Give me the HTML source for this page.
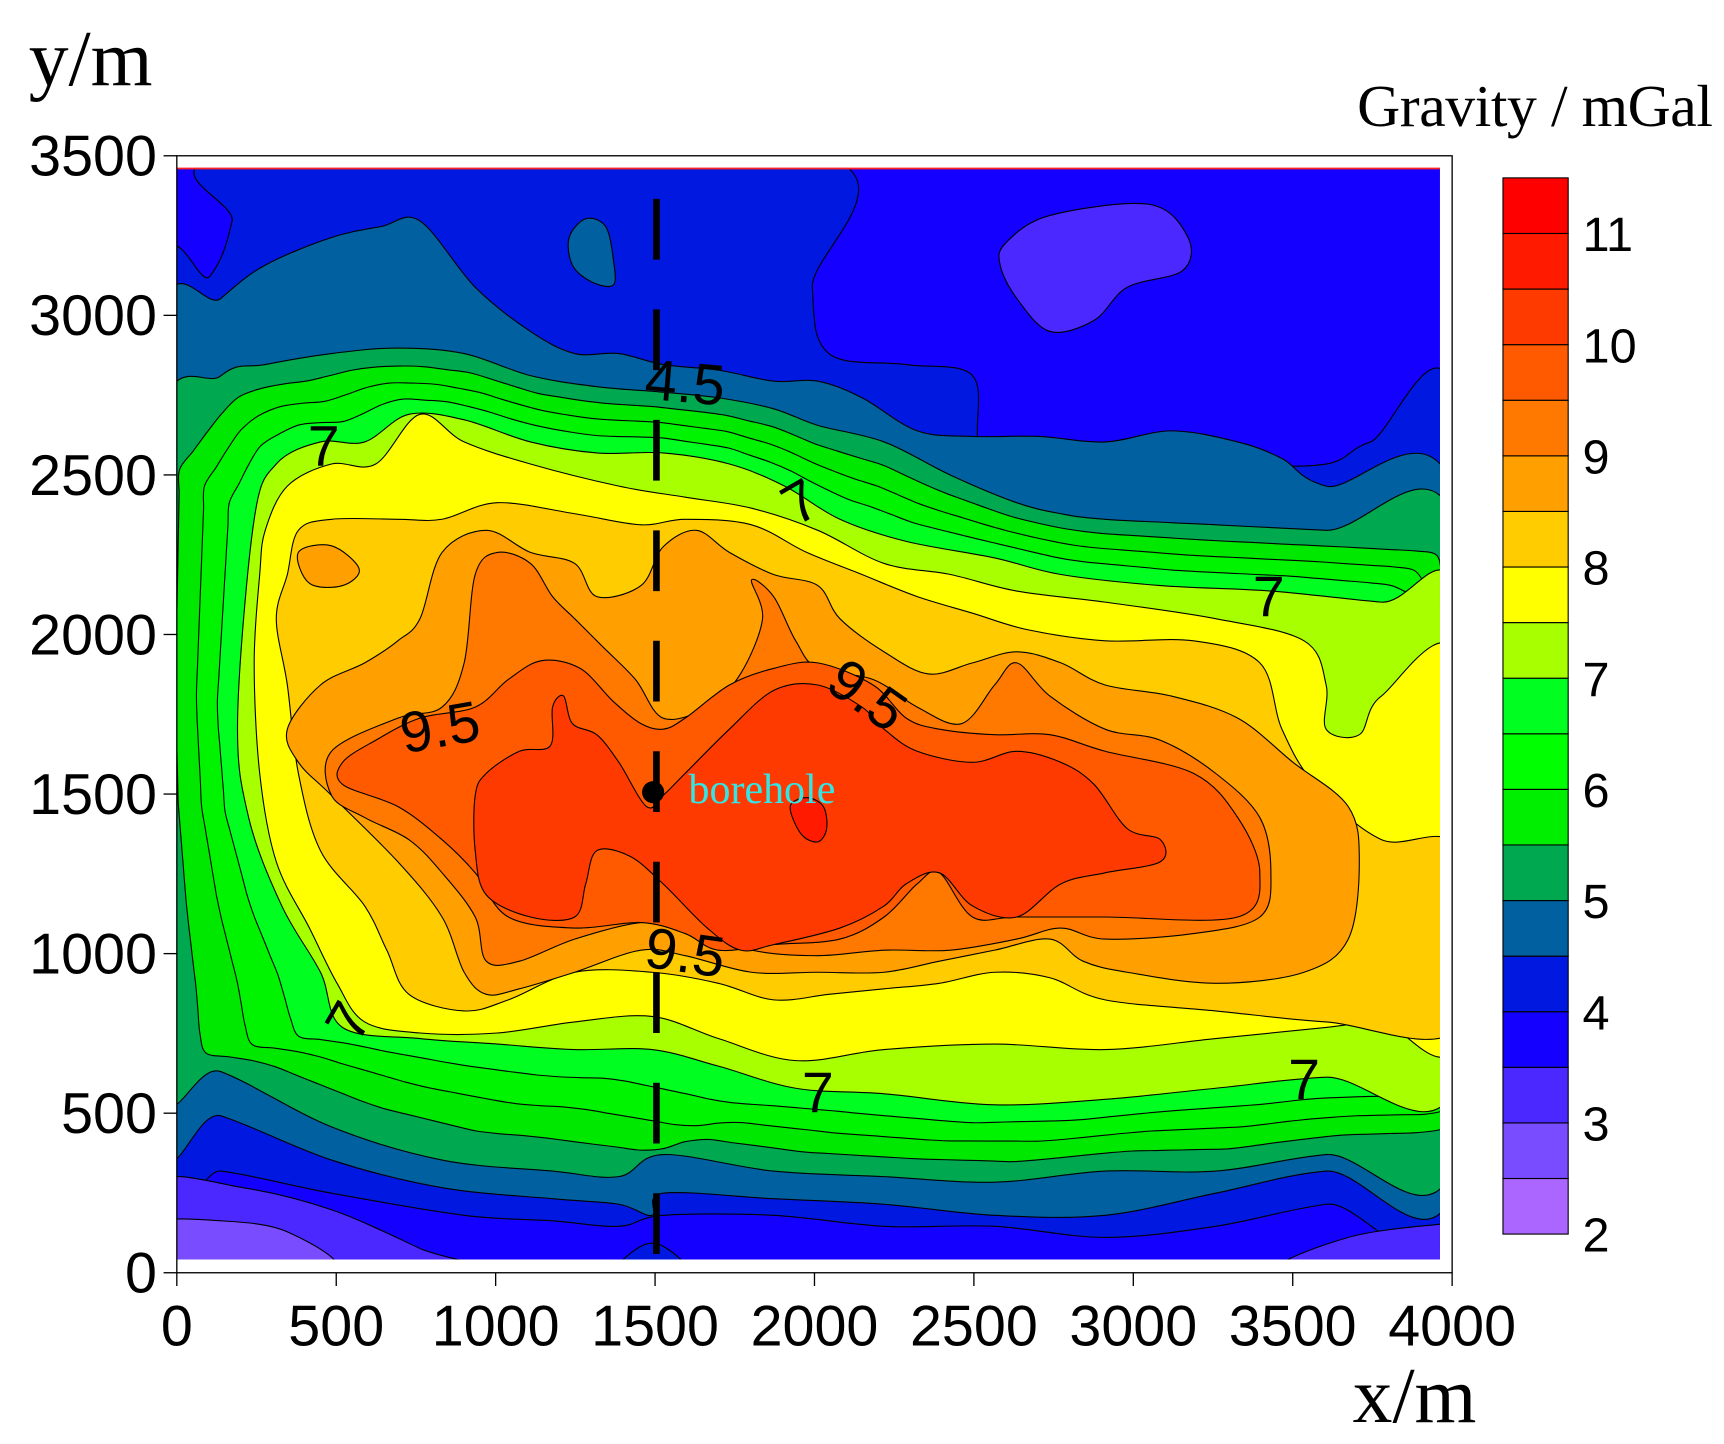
<!DOCTYPE html>
<html><head><meta charset="utf-8">
<style>html,body{margin:0;padding:0;background:#fff}svg{display:block}</style>
</head><body>
<svg id="s" width="1724" height="1444" viewBox="0 0 1560 1307" preserveAspectRatio="none" xmlns="http://www.w3.org/2000/svg">
<defs><clipPath id="c"><rect x="160" y="152" width="1143" height="988"/></clipPath></defs>
<rect x="0" y="0" width="1560" height="1307" fill="#fff"/>
<g id="map" clip-path="url(#c)">
<rect x="160" y="152" width="1143" height="988" fill="#1400ff"/>
</g>
<line x1="160" y1="152.5" x2="1303" y2="152.5" stroke="#ff2020" stroke-width="1.5"/>
<g id="over"></g>
<rect x="160" y="141" width="1154" height="1011" fill="none" stroke="#000" stroke-width="1.2"/>
<g id="ticks" stroke="#000" stroke-width="1.2"></g>
<g font-family="Liberation Sans, sans-serif" font-size="52" fill="#000" id="ylab" text-anchor="end"></g>
<g font-family="Liberation Sans, sans-serif" font-size="52" fill="#000" id="xlab" text-anchor="middle"></g>
<text x="26" y="77" font-family="Liberation Serif, serif" font-size="72">y/m</text>
<text x="1224" y="1287" font-family="Liberation Serif, serif" font-size="72">x/m</text>
<text x="1228" y="114" font-family="Liberation Serif, serif" font-size="54" textLength="322">Gravity / mGal</text>
<g id="cbar"></g>
<g font-family="Liberation Sans, sans-serif" font-size="44" fill="#000" id="cblab"></g>
</svg>
<script>
var NS="http://www.w3.org/2000/svg";
function el(p,t,a,txt){var e=document.createElementNS(NS,t);for(var k in a)e.setAttribute(k,a[k]);if(txt!==undefined)e.textContent=txt;p.appendChild(e);return e;}
function P(s){var a=s.trim().split(/[\s,]+/).map(Number),r=[];for(var i=0;i<a.length;i+=2)r.push([a[i],a[i+1]]);return r;}
function smooth(p){var n=p.length,d="M"+p[0][0]+","+p[0][1];for(var i=0;i<n;i++){var p0=p[(i-1+n)%n],p1=p[i],p2=p[(i+1)%n],p3=p[(i+2)%n];var c1=[p1[0]+(p2[0]-p0[0])/6,p1[1]+(p2[1]-p0[1])/6],c2=[p2[0]-(p3[0]-p1[0])/6,p2[1]-(p3[1]-p1[1])/6];d+="C"+c1[0].toFixed(1)+","+c1[1].toFixed(1)+" "+c2[0].toFixed(1)+","+c2[1].toFixed(1)+" "+(+p2[0]).toFixed(1)+","+(+p2[1]).toFixed(1);}return d+"Z";}
function resample(p,N){var L=[0],n=p.length;for(var i=0;i<n;i++){var a=p[i],b=p[(i+1)%n];L.push(L[i]+Math.hypot(b[0]-a[0],b[1]-a[1]));}var T=L[n],r=[];for(var k=0;k<N;k++){var t=k*T/N,j=0;while(j<n-1&&L[j+1]<t)j++;var a=p[j],b=p[(j+1)%n],f=(t-L[j])/((L[j+1]-L[j])||1);r.push([a[0]+(b[0]-a[0])*f,a[1]+(b[1]-a[1])*f]);}return r;}
var map=document.getElementById("map");
function layer(pts,col){el(map,"path",{d:smooth(pts),fill:col,stroke:"#000","stroke-width":"1"});}
layer(P("215,140 740,140 735,260 750,320 820,330 880,340 885,400 900,440 960,450 1000,420 1030,400 1080,410 1120,420 1200,420 1240,400 1320,380 1320,1080 1200,1090 1100,1110 1000,1120 900,1110 800,1110 700,1100 600,1100 560,1110 500,1105 420,1100 300,1080 200,1060 140,1060 140,290 190,250 210,200"),"#0018e0");
layer(P("910,220 950,195 1040,185 1075,215 1070,245 1020,260 990,290 950,300 920,270 905,240"),"#4a28ff");
layer(P("140,1070 220,1075 300,1095 380,1130 420,1150 140,1150"),"#4a28ff");
layer(P("140,1108 200,1105 260,1115 300,1150 140,1150"),"#7a4cff");
layer(P("1160,1150 1220,1120 1303,1108 1320,1108 1320,1150"),"#4a28ff");
layer(P("560,1150 580,1128 600,1128 620,1150"),"#0018e0");
var L45=P("140,325 200,270 240,240 300,215 345,205 380,200 430,260 480,300 520,320 560,320 600,330 650,335 700,345 740,345 780,360 830,390 880,395 940,395 1000,400 1060,390 1120,400 1160,415 1200,440 1320,460 1320,1060 1200,1060 1100,1080 1000,1100 900,1100 800,1090 700,1085 600,1080 590,1100 560,1090 500,1085 400,1075 300,1050 200,1010 140,1000");
layer(L45,"#0060a0");
layer(P("515,215 530,198 548,205 555,235 555,258 535,255 518,240"),"#0060a0");
var L5=P("140,410 200,340 240,330 300,320 360,315 420,320 480,340 540,350 600,355 650,360 700,370 740,385 800,400 860,430 920,455 960,465 1000,470 1100,475 1200,480 1320,485 1320,1040 1200,1045 1100,1060 1000,1060 900,1070 800,1065 700,1060 600,1045 560,1065 500,1060 400,1050 300,1020 200,970 140,960");
var L7=P("230,470 250,420 290,400 330,400 370,375 420,380 480,400 540,410 600,410 660,420 710,440 760,470 820,490 900,505 960,520 1050,530 1150,535 1250,545 1320,548 1320,975 1200,975 1100,985 1000,995 900,1000 800,990 720,985 650,965 590,950 520,950 450,945 380,940 310,930 290,880 255,820 225,740 215,650");
layer(L5,"#00a850");
var N=160,A=resample(L5,N),B=resample(L7,N);
[[0.25,"#00e800"],[0.5,"#00f400"],[0.75,"#00ff20"]].forEach(function(q){var f=q[0],r=[];for(var i=0;i<N;i++)r.push([A[i][0]+(B[i][0]-A[i][0])*f,A[i][1]+(B[i][1]-A[i][1])*f]);layer(r,q[1]);});
layer(L7,"#a8ff00");
layer(P("240,480 260,440 300,420 340,420 380,375 420,400 480,420 560,440 620,450 680,460 740,480 800,510 860,520 920,535 1000,545 1100,560 1180,580 1200,620 1200,660 1230,665 1250,630 1320,600 1320,935 1250,925 1200,930 1100,940 1000,950 900,945 800,950 720,960 650,940 590,920 520,925 450,935 380,935 330,925 305,890 280,840 250,780 235,700 230,600 235,520"),"#ffff00");
layer(P("260,520 270,480 300,470 360,470 400,470 450,455 520,465 580,475 620,470 680,475 730,500 780,520 830,540 880,555 930,570 1000,580 1080,580 1140,600 1160,660 1190,710 1250,760 1320,770 1320,930 1200,925 1100,915 1000,905 950,885 900,880 850,890 800,895 750,900 700,905 650,890 590,880 520,880 460,905 420,915 370,900 350,860 330,820 290,770 270,700 260,620 250,560"),"#ffcc00");
layer(P("380,560 400,500 440,480 480,500 520,510 540,540 580,530 600,495 630,480 660,500 700,520 740,530 760,560 800,590 840,610 880,600 920,590 960,600 1000,620 1060,630 1120,650 1170,690 1220,730 1230,780 1220,850 1180,880 1100,890 1020,880 980,870 950,850 900,860 850,870 800,880 740,880 680,880 620,865 580,860 520,880 470,895 440,900 420,880 400,830 360,780 300,720 270,690 260,660 290,620 330,600 360,580"),"#ffa000");
layer(P("270,500 300,494 325,515 310,530 280,528"),"#ffa000");
layer(P("300,680 360,650 400,640 420,600 430,520 450,500 480,510 500,540 520,560 545,585 575,615 600,650 640,640 670,610 690,560 680,525 700,540 720,580 740,605 790,615 830,640 870,655 900,620 920,600 950,630 1000,660 1050,670 1100,700 1140,740 1150,790 1140,830 1080,845 1000,850 960,840 920,850 860,860 800,860 740,865 680,860 620,840 580,835 520,850 470,870 440,870 430,830 400,790 370,760 330,740 300,720"),"#ff7800");
layer(P("310,690 340,670 380,650 430,640 460,615 490,598 525,605 555,635 580,655 600,660 620,650 660,620 700,605 740,600 790,620 820,650 850,660 900,665 950,665 1000,680 1080,700 1120,740 1140,790 1120,830 1000,830 920,830 880,830 850,790 830,800 800,830 760,850 700,855 650,860 620,845 580,835 520,840 460,830 430,790 400,760 360,730 310,710"),"#ff5a00");
layer(P("430,720 440,700 470,680 498,675 500,640 510,630 518,655 540,665 560,690 585,730 600,720 620,700 660,660 700,625 740,620 780,640 800,660 830,680 880,690 920,680 960,690 990,710 1020,750 1050,760 1050,780 1000,790 960,800 920,830 880,820 850,790 820,800 800,820 760,840 700,855 670,860 640,840 600,800 570,775 540,770 530,800 520,830 480,830 440,810 430,770"),"#ff3a00");
layer(P("715,730 730,722 745,730 748,750 740,762 725,755"),"#ff1a00");
var over=document.getElementById("over");
el(over,"line",{x1:594,y1:180,x2:594,y2:1152,stroke:"#000","stroke-width":6,"stroke-dasharray":"55 45"});
el(over,"circle",{cx:591,cy:717,r:10,fill:"#000"});
el(over,"text",{x:623,y:727,"font-family":"Liberation Serif, serif","font-size":38,fill:"#33e6e6"},"borehole");
[["4.5",620,364,5],["7",293,422,0],["7",724,472,-30],["7",1148,558,0],["9.5",398,676,-10],["9.5",785,647,35],["9.5",620,880,8],["7",740,1007,0],["7",1180,995,0],["7",315,942,-60]].forEach(function(t){el(over,"text",{x:t[1],y:t[2],"font-family":"Liberation Sans, sans-serif","font-size":52,"text-anchor":"middle",transform:"rotate("+t[3]+" "+t[1]+" "+(t[2]-18)+")"},t[0]);});
var tk=document.getElementById("ticks"),yl=document.getElementById("ylab"),xl=document.getElementById("xlab");
for(var v=0;v<=3500;v+=500){var y=1152-v/3500*1011;el(tk,"line",{x1:148,y1:y,x2:160,y2:y});el(yl,"text",{x:142,y:y+18},String(v));}
for(var v=0;v<=4000;v+=500){var x=160+v/4000*1154;el(tk,"line",{x1:x,y1:1152,x2:x,y2:1164});el(xl,"text",{x:x,y:1218},String(v));}
var cols=["#aa66ff","#7a4cff","#4a28ff","#1400ff","#0018e0","#0060a0","#00a850","#00ee00","#00ff00","#00ff20","#a8ff00","#ffff00","#ffcc00","#ffa000","#ff7800","#ff5a00","#ff3a00","#ff1a00","#ff0000"];
var cb=document.getElementById("cbar"),cl=document.getElementById("cblab"),cTop=161,cBot=1117,h=(cBot-cTop)/19;
cols.forEach(function(c,i){el(cb,"rect",{x:1360,y:cBot-(i+1)*h,width:59,height:h,fill:c,stroke:"#000","stroke-width":1});});
for(var v=2;v<=11;v++){var y=cBot-(v-2)*2*h;el(cl,"text",{x:1432,y:y+16},String(v));}
</script>
</body></html>
